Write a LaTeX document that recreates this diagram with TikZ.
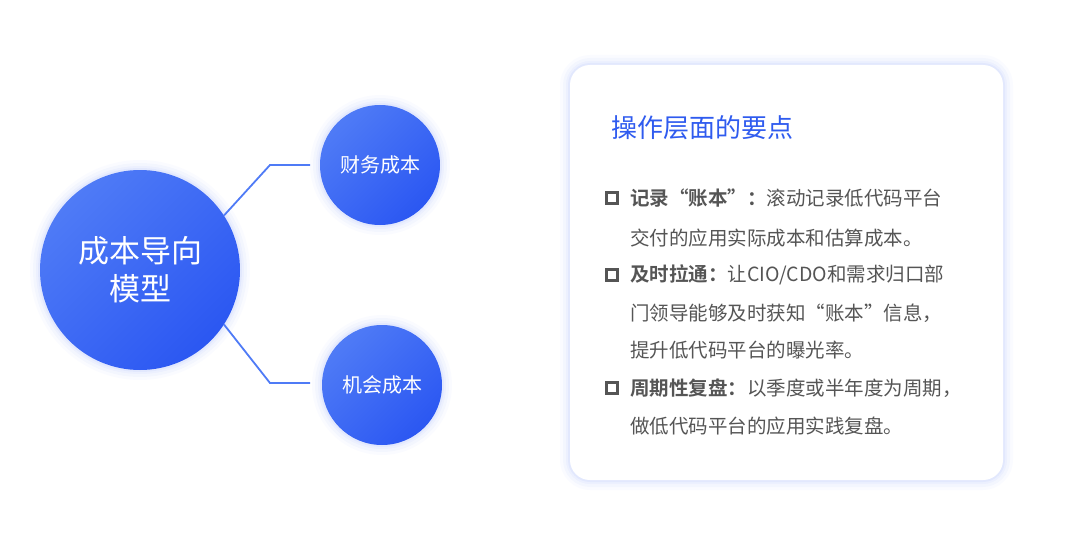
\documentclass[tikz,border=0pt]{standalone}
\usepackage{fontspec}
\setmainfont{Noto Sans CJK SC}
\newfontfamily\cjk{Noto Sans CJK SC}
\newfontfamily\cjkb{Noto Sans CJK SC Bold}
\definecolor{cblue}{HTML}{2B57F2}
\definecolor{lblue}{HTML}{4F7BF6}
\definecolor{tgray}{HTML}{555555}
\definecolor{title}{HTML}{2F5BEF}
\begin{document}
\begin{tikzpicture}[x=1pt,y=-1pt,
  ball/.style={circle,inner sep=0pt,text=white,align=center,shading=axis,left color=lblue,right color=cblue,shading angle=45},
  conn/.style={draw=lblue,line width=1.8pt},
  item/.style={anchor=west,inner sep=0pt,text=tgray,font=\cjk\fontsize{19.5}{22}\selectfont},
  bullet/.style={draw=tgray,line width=2.5pt,minimum size=11pt,inner sep=0pt}]
\useasboundingbox (0,0) rectangle (1080,551);
% glows
\foreach \r/\o in {10/0.025,7/0.03,4/0.04,2/0.05}{
  \fill[cblue,opacity=\o] (140,270) circle (100+\r);
  \fill[cblue,opacity=\o] (380,165) circle (60+\r);
  \fill[cblue,opacity=\o] (382,385) circle (60+\r);
  \fill[cblue,opacity=\o,rounded corners=20+\r] (570-\r,65-\r) rectangle (1003+\r,480+\r);
}
\fill[white,rounded corners=20] (570,65) rectangle (1003,480);
\node[ball,minimum size=200pt,font=\cjk\fontsize{31}{38}\selectfont] (main) at (140,270) {成本导向\\模型};
\node[ball,minimum size=120pt,font=\cjk\fontsize{20}{24}\selectfont] (fin) at (380,165) {财务成本};
\node[ball,minimum size=120pt,font=\cjk\fontsize{20}{24}\selectfont] (opp) at (382,385) {机会成本};
\coordinate (t1) at (270,165); \coordinate (b1) at (270,383);
\coordinate (t2) at (310,165); \coordinate (b2) at (310,383);
\draw[conn] (main.33) -- (t1) -- (t2);
\draw[conn] (main.-33) -- (b1) -- (b2);
\node[anchor=west,text=title,font=\cjk\fontsize{26}{30}\selectfont,inner sep=0pt] (ttl) at (611,128) {操作层面的要点};
\node[bullet] (s1) at (612,198) {};
\node[bullet] (s2) at (612,275) {};
\node[bullet] (s3) at (612,388) {};
\node[item] (l1) at (630,198) {{\cjkb 记录“账本”：}滚动记录低代码平台};
\node[item] (l2) at (630,238) {交付的应用实际成本和估算成本。};
\node[item] (l3) at (630,275) {{\cjkb 及时拉通：}让CIO/CDO和需求归口部};
\node[item] (l4) at (630,313) {门领导能够及时获知“账本”信息，};
\node[item] (l5) at (630,350) {提升低代码平台的曝光率。};
\node[item] (l6) at (630,388) {{\cjkb 周期性复盘：}以季度或半年度为周期，};
\node[item] (l7) at (630,426) {做低代码平台的应用实践复盘。};
\end{tikzpicture}
\end{document}
